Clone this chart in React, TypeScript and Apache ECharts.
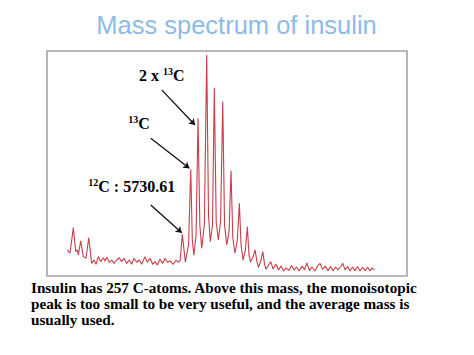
import React, { useEffect, useRef } from "react";
import * as echarts from "echarts";

// m/z values (Da) and relative intensity (%)
const mz = [
  5716.48, 5716.81, 5717.22, 5717.51, 5717.7, 5717.83, 5718.12, 5718.44, 5718.77, 5719.1,
  5719.46, 5719.75, 5719.99, 5720.27, 5720.56, 5720.88, 5721.09, 5721.3, 5721.62, 5721.91,
  5722.19, 5722.52, 5722.84, 5723.13, 5723.41, 5723.74, 5724.06, 5724.35, 5724.64, 5724.97,
  5725.28, 5725.58, 5725.98, 5726.26, 5726.59, 5726.92, 5727.2, 5727.48, 5727.81, 5728.14,
  5728.43, 5728.71, 5729.04, 5729.44, 5729.77, 5730.05, 5730.26, 5730.54, 5730.91, 5731.3,
  5731.57, 5731.76, 5731.95, 5732.22, 5732.46, 5732.68, 5732.91, 5733.23, 5733.52, 5733.74,
  5733.96, 5734.23, 5734.45, 5734.68, 5734.94, 5735.21, 5735.48, 5735.7, 5735.97, 5736.25,
  5736.49, 5736.71, 5736.98, 5737.26, 5737.51, 5737.72, 5737.96, 5738.25, 5738.49, 5738.69,
  5738.88, 5739.18, 5739.43, 5739.67, 5739.86, 5740.16, 5740.37, 5740.59, 5740.77, 5741.08,
  5741.35, 5741.63, 5741.99, 5742.3, 5742.61, 5742.91, 5743.22, 5743.58, 5743.89, 5744.2,
  5744.5, 5744.81, 5745.17, 5745.48, 5745.75, 5746.09, 5746.4, 5746.76, 5747.07, 5747.37,
  5747.68, 5747.99, 5748.35, 5748.66, 5748.96, 5749.27, 5749.57, 5749.88, 5750.15, 5750.43,
  5750.74, 5751.04, 5751.35, 5751.65, 5751.96, 5752.26, 5752.57, 5752.88, 5753.18, 5753.49,
  5753.73, 5754.04,
];
const intensity = [
  11.6, 10.1, 21.5, 10.8, 11.6, 9.3, 15.6, 8.6, 7.9, 17.0,
  5.6, 7.1, 5.2, 8.6, 6.4, 8.1, 6.7, 8.3, 6.1, 7.1,
  5.6, 7.1, 8.1, 6.4, 7.9, 5.6, 7.1, 5.2, 7.9, 6.1,
  7.1, 5.2, 8.6, 6.1, 7.9, 5.2, 6.4, 4.9, 7.4, 5.6,
  7.9, 6.1, 6.7, 5.2, 7.1, 6.1, 6.7, 18.5, 6.2, 13.8,
  47.4, 16.0, 9.3, 18.2, 70.1, 22.7, 12.3, 22.7, 98.2, 27.1,
  15.2, 22.7, 83.7, 24.0, 16.0, 24.0, 77.5, 22.7, 13.8, 19.6,
  46.8, 16.9, 10.1, 16.0, 32.3, 13.8, 7.1, 11.6, 21.9, 9.3,
  6.2, 8.4, 11.6, 6.2, 3.9, 7.1, 10.8, 5.3, 3.0, 4.9,
  6.4, 3.1, 5.3, 2.7, 4.4, 2.2, 3.6, 2.4, 4.7, 2.7,
  4.0, 2.2, 4.4, 2.7, 5.8, 2.4, 4.0, 2.2, 4.4, 5.6,
  2.9, 4.4, 2.4, 4.2, 2.2, 4.0, 2.7, 4.0, 5.6, 2.7,
  4.2, 2.2, 4.0, 2.4, 4.2, 2.2, 3.8, 2.4, 4.0, 2.2,
  3.6, 2.7,
];

// annotation arrows (data space: [m/z, intensity])
const arrowStarts = [
  [5728.02, 82.7],
  [5726.68, 61.2],
  [5726.68, 31.6],
];
const arrowEnds = [
  [5732.09, 67.1],
  [5731.4, 47.9],
  [5730.47, 19.2],
];

const titleText = "Mass spectrum of insulin";
const captionLines = [
  "Insulin has 257 C-atoms. Above this mass, the monoisotopic",
  "peak is too small to be very useful, and the average mass is",
  "usually used.",
];

export default function App() {
  const ref = useRef<HTMLDivElement>(null);
  useEffect(() => {
    const chart = echarts.init(ref.current!, null, { renderer: "svg" });
    const serif = "'Liberation Serif', 'Times New Roman', serif";
    const rich = {
      b: { fontFamily: serif, fontWeight: "bold", fontSize: 16, lineHeight: 18, color: "#111" },
      s: { fontFamily: serif, fontWeight: "bold", fontSize: 10, lineHeight: 7, verticalAlign: "top", color: "#111" },
    };
    const label = (x: number, y: number, text: string) => ({
      type: "text",
      x,
      y,
      silent: true,
      style: { text, rich, align: "left", verticalAlign: "top", textAlign: "left", textVerticalAlign: "top" },
    });
    const capSize = 15.2;
    const capStep = 16;
    const captions = captionLines.map((line, i) => ({
      type: "text",
      x: 31,
      y: 280.3 + i * capStep,
      silent: true,
      style: {
        text: line,
        fontFamily: serif,
        fontWeight: "bold",
        fontSize: capSize,
        lineHeight: capSize,
        fill: "#000",
        align: "left",
        verticalAlign: "top",
        textAlign: "left",
        textVerticalAlign: "top",
      },
    }));
    chart.setOption({
      animation: false,
      backgroundColor: "#ffffff",
      grid: {
        show: true,
        left: 47,
        top: 51,
        width: 360,
        height: 225,
        borderColor: "#a3a3a3",
        borderWidth: 1.6,
        backgroundColor: "transparent",
      },
      xAxis: {
        type: "value",
        min: 5714,
        max: 5758,
        show: false,
      },
      yAxis: {
        type: "value",
        min: 0,
        max: 100,
        show: false,
      },
      series: [
        {
          type: "line",
          data: mz.map((m, i) => [m, intensity[i]]),
          showSymbol: false,
          symbol: "none",
          lineStyle: { color: "#c63f4b", width: 1.1 },
          silent: true,
          markLine: {
            silent: true,
            symbol: ["none", "arrow"],
            symbolSize: 6,
            label: { show: false },
            lineStyle: { color: "#111", width: 1.3, type: "solid" },
            emphasis: { disabled: true },
            data: arrowStarts.map((s, i) => [{ coord: s }, { coord: arrowEnds[i] }]),
          },
        },
      ],
      graphic: [
        {
          type: "text",
          x: 236.5,
          y: 24.6,
          silent: true,
          style: {
            text: titleText,
            fontFamily: "'Liberation Sans', Arial, sans-serif",
            fontSize: 25.5,
            fill: "#8dbbe8",
            align: "center",
            verticalAlign: "middle",
            textAlign: "center",
            textVerticalAlign: "middle",
          },
        },
        label(139, 66.6, "{b|2 x }{s|13}{b|C}"),
        label(128.3, 114.9, "{s|13}{b|C}"),
        label(88.3, 177.9, "{s|12}{b|C : 5730.61}"),
        ...captions,
      ],
    });
    return () => chart.dispose();
  }, []);
  return (
    <div
      ref={ref}
      style={{ position: "absolute", left: 0, top: 0, width: 474, height: 355, background: "#fff" }}
    />
  );
}
